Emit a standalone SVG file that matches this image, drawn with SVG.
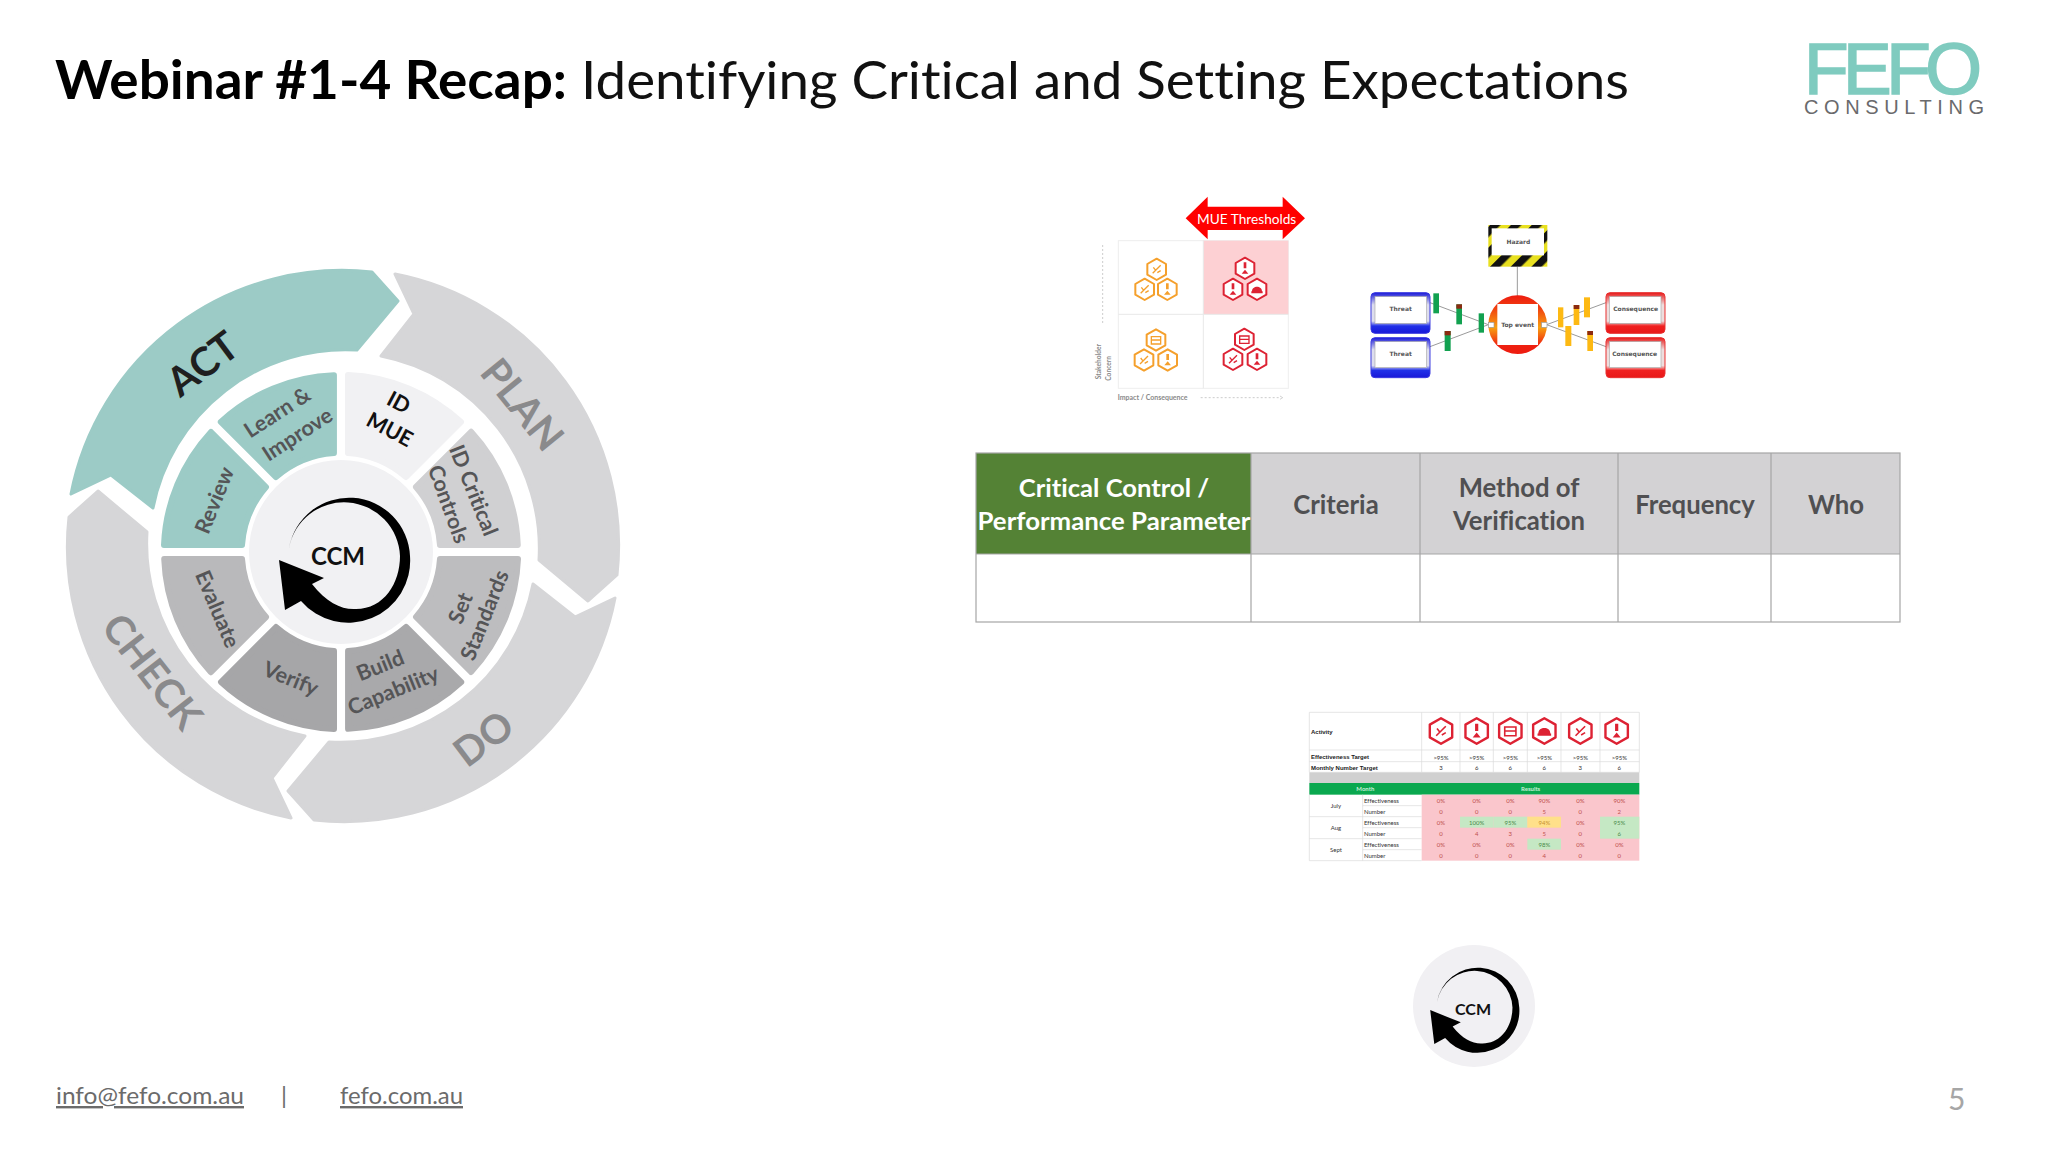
<svg xmlns="http://www.w3.org/2000/svg" xmlns:xlink="http://www.w3.org/1999/xlink" width="2048" height="1152" viewBox="0 0 2048 1152">
<style>
text{font-family:Lato,"Open Sans","Liberation Sans",sans-serif;font-variant-ligatures:none}
.c{text-anchor:middle;dominant-baseline:central}
.big{font-size:40px;font-weight:700;fill:#8a8a8c}
.seg{font-size:21.5px;font-weight:700;fill:#555557}
.th{font-size:25.7px;font-weight:700;fill:#505052}
.cell{fill:none;stroke:#a6a6a6;stroke-width:1.2}
.foot{font-size:24px;fill:#6b6b6b;text-decoration:underline}
.bt{font-family:"DejaVu Sans",sans-serif;font-size:18px;font-weight:700;fill:#555}
.ln{stroke:#9a9a9a;stroke-width:3;fill:none}
.gb{fill:#12a150}
.ob{fill:#fdb913}
.cap{fill:#8c2a10}
.a{font-size:18px;fill:#333;font-family:"Liberation Sans",sans-serif}
.ab{font-size:18px;font-weight:700;fill:#222;font-family:"Liberation Sans",sans-serif}
.r{font-size:18px;fill:#c0504d;font-family:"Liberation Sans",sans-serif}
.tl{stroke:#d9d9d9;stroke-width:2;fill:none}
.or{color:#f5a02c}
.rd{color:#dd2233}
</style>
<defs>
<path id="sector" d="M7,-177A177 177 0 0 1 120,-130L65,-75A99 99 0 0 0 7,-99Z" stroke-width="6" stroke-linejoin="round"/>
<path id="band" d="M-272,-52A276 276 0 0 1 29,-274L55,-245L14,-196A196 196 0 0 0 -190,-38L-232,-71Z" stroke-width="3" stroke-linejoin="round"/>
<path id="loop" d="M-50,-3A61 61 0 0 1 71,5A62 62 0 0 1 -38,50L-54,59L-60,9L-15,27L-27,33C-12,52 3,59 17,58C45,58 61,32 61,5A56 56 0 0 0 -50,-3Z" fill="#000"/>
<g id="hex"><path d="M0,-32L28,-16V16L0,32L-28,16V-16Z" fill="#fff" stroke="currentColor" stroke-width="6" stroke-linejoin="round"/></g>
<g id="g1"><use xlink:href="#hex"/><path d="M-12,12L12,-12M-10,-6L-2,4M2,10L12,4" fill="none" stroke="currentColor" stroke-width="4"/></g>
<g id="g2"><use xlink:href="#hex"/><path d="M-14,-10H14V12H-14ZM-14,0H14" fill="none" stroke="currentColor" stroke-width="4"/></g>
<g id="g3"><use xlink:href="#hex"/><path d="M-4,-18H4V0H-4ZM-10,16L0,4L10,16Z" fill="currentColor"/></g>
<g id="g4"><use xlink:href="#hex"/><path d="M-15,6C-15,-12 15,-12 15,6ZM-17,6H17V12H-17Z" fill="currentColor"/></g>
<linearGradient id="blue" x1="0" y1="0" x2="0" y2="1"><stop offset="0" stop-color="#1818d8"/><stop offset=".3" stop-color="#dde"/><stop offset=".7" stop-color="#dde"/><stop offset=".82" stop-color="#2030e8"/><stop offset="1" stop-color="#1818d8"/></linearGradient>
<linearGradient id="red" x1="0" y1="0" x2="0" y2="1"><stop offset="0" stop-color="#e81818"/><stop offset=".3" stop-color="#edd"/><stop offset=".7" stop-color="#edd"/><stop offset=".82" stop-color="#f02020"/><stop offset="1" stop-color="#e81818"/></linearGradient>
<linearGradient id="top" x1="0" y1="0" x2="0" y2="1"><stop offset="0" stop-color="#ee1c10"/><stop offset=".22" stop-color="#f04010"/><stop offset=".55" stop-color="#f8a010"/><stop offset=".85" stop-color="#ee2010"/><stop offset="1" stop-color="#ee1c10"/></linearGradient>
<pattern id="stripe" width="44" height="44" patternUnits="userSpaceOnUse" patternTransform="rotate(45)"><rect width="44" height="44" fill="#e8e020"/><rect width="22" height="44" fill="#111"/></pattern>
</defs>
<rect width="2048" height="1152" fill="#fff"/>
<g id="title">
<text x="55" y="99" font-size="53" font-weight="700" fill="#000" textLength="512" lengthAdjust="spacingAndGlyphs">Webinar #1-4 Recap:</text>
<text x="581" y="99" font-size="53" fill="#111" textLength="1048" lengthAdjust="spacingAndGlyphs">Identifying Critical and Setting Expectations</text>
</g>
<g id="logo">
<text x="1804" y="94" font-size="73" fill="#7fcbbf" stroke="#7fcbbf" stroke-width="1.6" textLength="178" lengthAdjust="spacing" style="font-family:'Liberation Sans',sans-serif">FEFO</text>
<text x="1804" y="114" font-size="20" fill="#6a6a6c" textLength="180" style="font-family:'Liberation Sans',sans-serif">CONSULTING</text>
</g>
<g id="wheel" transform="translate(341,552)">
<g transform="translate(2,-6)">
<g id="act-band"><use xlink:href="#band" fill="#9ccbc6" stroke="#9ccbc6"/><text class="c big" transform="translate(-141,-183) rotate(-37)" style="fill:#1f1f1f">ACT</text></g>
<g id="plan-band"><use xlink:href="#band" transform="rotate(90)" fill="#d6d6d8" stroke="#d6d6d8"/><text class="c big" transform="translate(180,-142) rotate(51)">PLAN</text></g>
<g id="do-band"><use xlink:href="#band" transform="rotate(180)" fill="#d6d6d8" stroke="#d6d6d8"/><text class="c big" transform="translate(140,192) rotate(-37)">DO</text></g>
<g id="check-band"><use xlink:href="#band" transform="rotate(270)" fill="#d6d6d8" stroke="#d6d6d8"/><text class="c big" transform="translate(-190,125) rotate(52)">CHECK</text></g>
</g>
<g id="seg-id-mue"><use xlink:href="#sector" fill="#f1f1f3" stroke="#f1f1f3"/><text class="c seg" transform="translate(58,-150) rotate(28)" style="fill:#111">ID</text><text class="c seg" transform="translate(49,-123) rotate(28)" style="fill:#111">MUE</text></g>
<g id="seg-id-critical"><use xlink:href="#sector" transform="rotate(45)" fill="#d0d0d2" stroke="#d0d0d2"/><text class="c seg" transform="translate(133,-62) rotate(68)">ID Critical</text><text class="c seg" transform="translate(108,-48) rotate(70)">Controls</text></g>
<g id="seg-set"><use xlink:href="#sector" transform="rotate(90)" fill="#bdbdbf" stroke="#bdbdbf"/><text class="c seg" transform="translate(119,56) rotate(-68)">Set</text><text class="c seg" transform="translate(143,63) rotate(-68)">Standards</text></g>
<g id="seg-build"><use xlink:href="#sector" transform="rotate(135)" fill="#a9a9ab" stroke="#a9a9ab"/><text class="c seg" transform="translate(39,113) rotate(-22)">Build</text><text class="c seg" transform="translate(52,138) rotate(-22)">Capability</text></g>
<g id="seg-verify"><use xlink:href="#sector" transform="rotate(180)" fill="#a6a6a8" stroke="#a6a6a8"/><text class="c seg" transform="translate(-50,126) rotate(22)">Verify</text></g>
<g id="seg-evaluate"><use xlink:href="#sector" transform="rotate(225)" fill="#b9b9bb" stroke="#b9b9bb"/><text class="c seg" transform="translate(-123,57) rotate(67)">Evaluate</text></g>
<g id="seg-review"><use xlink:href="#sector" transform="rotate(270)" fill="#9ccbc6" stroke="#9ccbc6"/><text class="c seg" transform="translate(-127,-52) rotate(-68)">Review</text></g>
<g id="seg-learn"><use xlink:href="#sector" transform="rotate(315)" fill="#9ccbc6" stroke="#9ccbc6"/><text class="c seg" transform="translate(-64,-140) rotate(-33)">Learn &amp;</text><text class="c seg" transform="translate(-44,-118) rotate(-33)">Improve</text></g>
<g id="hub"><circle r="92" fill="#f1f1f3"/><use xlink:href="#loop" transform="translate(-2,-1)"/><text class="c" x="-3" y="3" font-size="24" font-weight="700" fill="#111">CCM</text></g>
</g>
<g id="mue-matrix" transform="translate(1080,190) scale(.33333)">
<rect x="115" y="152" width="510" height="443" fill="#fff" stroke="#eee" stroke-width="3"/>
<rect x="370" y="152" width="255" height="221" fill="#fdd0d3"/>
<path d="M370,152V595M115,373H625" stroke="#e8e8e8" stroke-width="3"/>
<path d="M317,85L383,20V50H608V20L675,85L608,148V120H383V148Z" fill="#f00"/>
<text class="c" x="500" y="86" font-size="41" fill="#fff">MUE Thresholds</text>
<g class="or"><use xlink:href="#g1" x="230" y="238"/><use xlink:href="#g1" x="194" y="298"/><use xlink:href="#g3" x="262" y="298"/><use xlink:href="#g2" x="228" y="450"/><use xlink:href="#g1" x="192" y="510"/><use xlink:href="#g3" x="263" y="510"/></g>
<g class="rd"><use xlink:href="#g3" x="495" y="235"/><use xlink:href="#g3" x="459" y="298"/><use xlink:href="#g4" x="531" y="298"/><use xlink:href="#g2" x="493" y="448"/><use xlink:href="#g1" x="459" y="508"/><use xlink:href="#g3" x="531" y="508"/></g>
<path d="M68,165V400" stroke="#ccc" stroke-width="3" stroke-dasharray="6 6"/>
<path d="M362,623H600" stroke="#ccc" stroke-width="3" stroke-dasharray="6 6"/>
<path d="M600,618L608,623L600,628" fill="none" stroke="#bbb" stroke-width="2"/>
<text x="113" y="630" font-size="21" font-weight="700" fill="#8a8a8a">Impact / Consequence</text>
<text class="c" transform="translate(55,515) rotate(-90)" font-size="20" font-weight="700" fill="#8a8a8a">Stakeholder</text>
<text class="c" transform="translate(85,535) rotate(-90)" font-size="20" font-weight="700" fill="#8a8a8a">Concern</text>
</g>
<g transform="translate(1360,210) scale(.33333)">
<g id="connectors">
<path class="ln" d="M472,170V258M210,278L385,344M210,410L385,344M560,344L738,278M560,344L738,410"/>
</g>
<g id="hazard"><rect x="385" y="45" width="177" height="125" fill="url(#stripe)"/><rect x="395" y="55" width="157" height="81" fill="#fff"/><text class="c bt" x="475" y="96">Hazard</text></g>
<g id="threat-1"><rect x="33" y="248" width="177" height="122" rx="12" fill="url(#blue)" stroke="#3a3ae0" stroke-width="3"/><rect x="45" y="260" width="155" height="80" fill="#fff" stroke="#aaa" stroke-width="2"/><text class="c bt" x="122" y="297">Threat</text></g>
<g id="threat-2"><rect x="33" y="383" width="177" height="120" rx="12" fill="url(#blue)" stroke="#3a3ae0" stroke-width="3"/><rect x="45" y="395" width="155" height="78" fill="#fff" stroke="#aaa" stroke-width="2"/><text class="c bt" x="122" y="431">Threat</text></g>
<g id="consequence-1"><rect x="738" y="248" width="177" height="122" rx="12" fill="url(#red)" stroke="#e83030" stroke-width="3"/><rect x="748" y="260" width="155" height="80" fill="#fff" stroke="#aaa" stroke-width="2"/><text class="c bt" x="827" y="297">Consequence</text></g>
<g id="consequence-2"><rect x="738" y="383" width="177" height="120" rx="12" fill="url(#red)" stroke="#e83030" stroke-width="3"/><rect x="748" y="395" width="155" height="78" fill="#fff" stroke="#aaa" stroke-width="2"/><text class="c bt" x="824" y="431">Consequence</text></g>
<g id="top-event"><circle cx="473" cy="344" r="88" fill="url(#top)"/><rect x="412" y="282" width="122" height="123" fill="#fff"/><text class="c bt" x="473" y="344">Top event</text><rect x="385" y="337" width="17" height="15" fill="#fff" stroke="#999" stroke-width="2"/><rect x="545" y="337" width="16" height="15" fill="#fff" stroke="#999" stroke-width="2"/></g>
<g id="barriers">
<rect class="gb" x="220" y="250" width="17" height="60"/><rect class="gb" x="289" y="283" width="17" height="60"/><rect class="cap" x="289" y="283" width="17" height="13"/><rect class="gb" x="356" y="310" width="16" height="58"/><rect class="gb" x="254" y="363" width="18" height="60"/><rect class="cap" x="254" y="363" width="18" height="13"/>
<rect class="ob" x="594" y="292" width="16" height="60"/><rect class="ob" x="641" y="285" width="17" height="60"/><rect class="cap" x="641" y="285" width="17" height="12"/><rect class="ob" x="672" y="262" width="18" height="60"/><rect class="ob" x="616" y="348" width="18" height="60"/><rect class="ob" x="682" y="363" width="17" height="60"/><rect class="cap" x="682" y="363" width="17" height="12"/>
</g>
</g>
<g id="criteria-table">
<rect x="976" y="453" width="275" height="101" fill="#548235"/>
<rect x="1251" y="453" width="649" height="101" fill="#d3d2d4"/>
<rect class="cell" x="976" y="453" width="924" height="169"/>
<path class="cell" d="M976,554H1900M1251,453V622M1420,453V622M1618,453V622M1771,453V622"/>
<text class="c" x="1114" y="487" font-size="25.6" font-weight="700" fill="#fff">Critical Control /</text>
<text class="c" x="1114" y="520" font-size="25.6" font-weight="700" fill="#fff" textLength="273" lengthAdjust="spacingAndGlyphs">Performance Parameter</text>
<text class="c th" x="1336" y="504">Criteria</text>
<text class="c th" x="1519" y="487">Method of</text>
<text class="c th" x="1519" y="520">Verification</text>
<text class="c th" x="1695" y="504">Frequency</text>
<text class="c th" x="1836" y="504">Who</text>
</g>
<g id="results-table" transform="translate(1300,700) scale(.33333)">
<rect x="28" y="37" width="990" height="445" fill="#fff"/>
<rect x="28" y="217" width="990" height="32" fill="#d0d0d0"/>
<rect x="28" y="249" width="990" height="35" fill="#0aa84f"/>
<rect x="365" y="284" width="653" height="198" fill="#fac6cc"/>
<rect x="480" y="350" width="100" height="33" fill="#c5e8c4"/><rect x="580" y="350" width="102" height="33" fill="#c5e8c4"/><rect x="682" y="350" width="101" height="33" fill="#ffe08a"/><rect x="900" y="350" width="118" height="66" fill="#c5e8c4"/><rect x="682" y="416" width="101" height="33" fill="#c5e8c4"/>
<path class="tl" d="M28,37H1018V217H28ZM28,150H1018M28,185H1018M365,37V217M480,37V217M580,37V217M682,37V217M783,37V217M900,37V217M28,284V482H365M28,350H365M28,416H365M188,284V482M188,317H365M188,383H365M188,449H365"/>
<g class="rd"><use xlink:href="#g1" transform="translate(423,93) scale(1.2)"/><use xlink:href="#g3" transform="translate(530,93) scale(1.2)"/><use xlink:href="#g2" transform="translate(631,93) scale(1.2)"/><use xlink:href="#g4" transform="translate(733,93) scale(1.2)"/><use xlink:href="#g1" transform="translate(841,93) scale(1.2)"/><use xlink:href="#g3" transform="translate(950,93) scale(1.2)"/></g>
<text class="ab" x="33" y="102">Activity</text>
<text class="ab" x="33" y="178">Effectiveness Target</text>
<text class="ab" x="33" y="211">Monthly Number Target</text>
<g class="c a">
<text x="423" y="172">&gt;95%</text><text x="530" y="172">&gt;95%</text><text x="631" y="172">&gt;95%</text><text x="733" y="172">&gt;95%</text><text x="841" y="172">&gt;95%</text><text x="958" y="172">&gt;95%</text>
<text x="423" y="204">3</text><text x="530" y="204">6</text><text x="631" y="204">6</text><text x="733" y="204">6</text><text x="841" y="204">3</text><text x="958" y="204">6</text>
<text x="108" y="318">July</text><text x="108" y="384">Aug</text><text x="108" y="450">Sept</text>
</g>
<text class="c" x="196" y="267" font-size="18" font-weight="700" fill="#c8f0d8">Month</text>
<text class="c" x="692" y="267" font-size="18" font-weight="700" fill="#c8f0d8">Results</text>
<g class="a"><text x="192" y="308">Effectiveness</text><text x="192" y="341">Number</text><text x="192" y="374">Effectiveness</text><text x="192" y="407">Number</text><text x="192" y="440">Effectiveness</text><text x="192" y="473">Number</text></g>
<g class="c r">
<text x="423" y="302">0%</text><text x="530" y="302">0%</text><text x="631" y="302">0%</text><text x="733" y="302">90%</text><text x="841" y="302">0%</text><text x="958" y="302">90%</text>
<text x="423" y="335">0</text><text x="530" y="335">0</text><text x="631" y="335">0</text><text x="733" y="335">5</text><text x="841" y="335">0</text><text x="958" y="335">2</text>
<text x="423" y="368">0%</text><text x="530" y="368" style="fill:#4a8a4a">100%</text><text x="631" y="368" style="fill:#4a8a4a">95%</text><text x="733" y="368" style="fill:#c89030">94%</text><text x="841" y="368">0%</text><text x="958" y="368" style="fill:#4a8a4a">95%</text>
<text x="423" y="401">0</text><text x="530" y="401">4</text><text x="631" y="401">3</text><text x="733" y="401">5</text><text x="841" y="401">0</text><text x="958" y="401" style="fill:#4a8a4a">6</text>
<text x="423" y="434">0%</text><text x="530" y="434">0%</text><text x="631" y="434">0%</text><text x="733" y="434" style="fill:#4a8a4a">98%</text><text x="841" y="434">0%</text><text x="958" y="434">0%</text>
<text x="423" y="467">0</text><text x="530" y="467">0</text><text x="631" y="467">0</text><text x="733" y="467">4</text><text x="841" y="467">0</text><text x="958" y="467">0</text>
</g>
</g>
<g id="ccm-small">
<circle cx="1474" cy="1006" r="61" fill="#f1f0f3"/>
<use xlink:href="#loop" transform="translate(1471,1004) scale(.68)"/>
<text class="c" x="1473" y="1008" font-size="16" font-weight="700" fill="#111">CCM</text>
</g>
<g id="footer">
<text class="foot" x="56" y="1104" textLength="188" lengthAdjust="spacingAndGlyphs">info@fefo.com.au</text>
<text x="281" y="1104" font-size="24" fill="#6b6b6b">|</text>
<text class="foot" x="340" y="1104" textLength="123" lengthAdjust="spacingAndGlyphs">fefo.com.au</text>
<text x="1948" y="1110" font-size="30" fill="#a6a6a6">5</text>
</g>
</svg>
